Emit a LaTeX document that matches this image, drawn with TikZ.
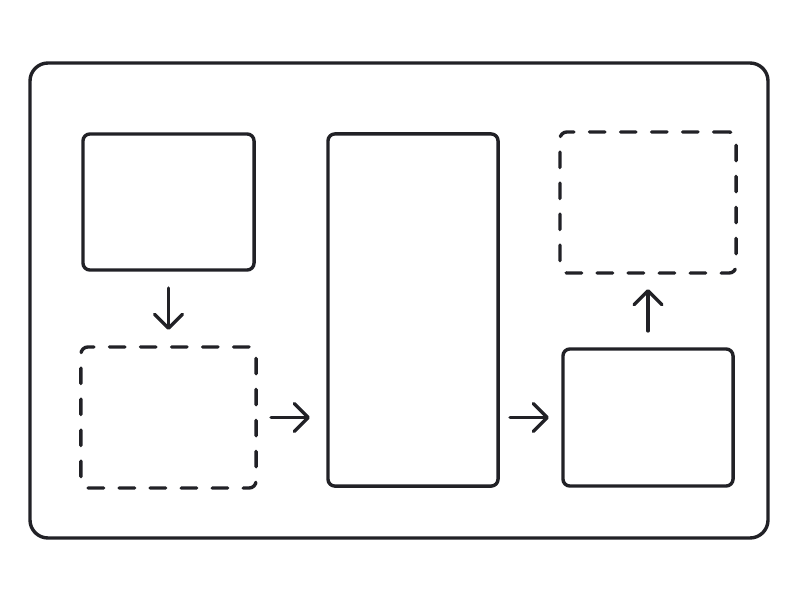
\documentclass[tikz,border=0pt]{standalone}
\usepackage{tikz}
\usetikzlibrary{arrows.meta}
\usetikzlibrary{positioning}
\definecolor{ink}{RGB}{33,33,38}
\tikzstyle{box_solid}=[rectangle, draw=ink, line width=0.034cm, rounded corners=0.07cm, inner sep=0pt, outer sep=0pt]
\tikzstyle{box_dashed}=[box_solid, line cap=round, dash pattern=on 0.155cm off 0.155cm]
\tikzstyle{flow}=[draw=ink, line width=0.034cm, line cap=round, -{Straight Barb[round, length=0.14cm, width=0.28cm]}]

\begin{document}
\begin{tikzpicture}[x=0.01cm, y=-0.01cm]
          \useasboundingbox (0,0) rectangle (800,600);
          \draw[draw=ink, line width=0.034cm, rounded corners=0.18cm] (30,63) rectangle (768,538);
          \node[box_solid, minimum width=1.71cm, minimum height=1.36cm] (source) at (168.5,202){};
          \node[box_dashed, minimum width=1.75cm, minimum height=1.41cm] (stage) at (168.5,417.5){};
          \node[box_solid, minimum width=1.70cm, minimum height=3.52cm] (core) at (413,310){};
          \node[box_solid, minimum width=1.70cm, minimum height=1.37cm] (result) at (648,417.5){};
          \node[box_dashed, minimum width=1.76cm, minimum height=1.41cm] (output) at (648,202.5){};
          \draw[flow, shorten <=0.18cm, shorten >=0.17cm] (source.south) -- (stage.north);
          \draw[flow, shorten <=0.15cm, shorten >=0.18cm] (stage.east) -- (stage.east -| core.west);
          \draw[flow, shorten <=0.12cm, shorten >=0.14cm] (core.east |- result.west) -- (result.west);
          \draw[flow, shorten <=0.18cm, shorten >=0.16cm] (result.north) -- (output.south);
        \end{tikzpicture}
\end{document}
